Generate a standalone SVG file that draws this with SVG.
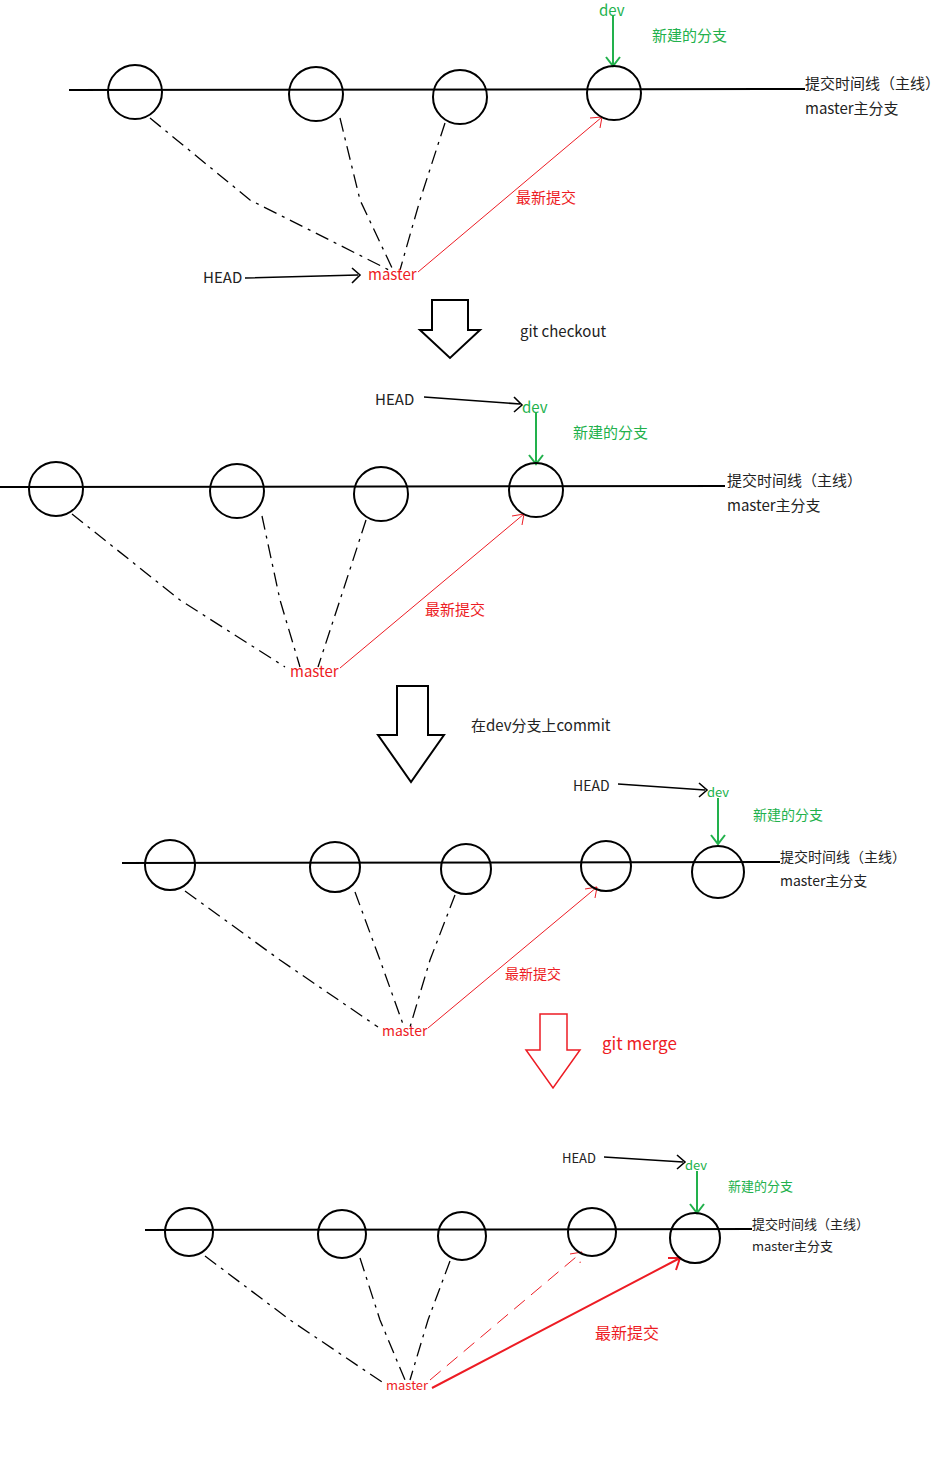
<svg xmlns="http://www.w3.org/2000/svg" width="952" height="1460" viewBox="0 0 952 1460">
<style>
text{font-family:"Microsoft YaHei","Noto Sans CJK SC",sans-serif;font-size:15px}
.k{fill:#222}.g{fill:#22b14c}.r{fill:#ed1c24}
.ax{stroke:#000;stroke-width:2;fill:none}
.c{stroke:#000;stroke-width:2;fill:none}
.d{stroke:#000;stroke-width:1.3;fill:none;stroke-dasharray:14 6 3 6}
.ga{stroke:#22b14c;stroke-width:2;fill:none}
.ra{stroke:#ed1c24;stroke-width:1;fill:none}
.ha{stroke:#000;stroke-width:1.6;fill:none}
.s{font-size:13px}
</style>
<rect width="952" height="1460" fill="#fff"/>
<g id="connectors">
<!-- panel1 -->
<line class="ax" x1="69" y1="90" x2="805" y2="89"/>
<path class="d" d="M150 118 L250 200 L393 272 M340 118 L360 200 L393 270 M445 123 L420 200 L400 270"/>
<path class="ga" d="M613 16 L613 65 M606 57 L613 66 L620 57"/>
<path class="ha" d="M245 278 L358 275 M352 268 L360 275 L352 283"/>
<path class="ra" d="M418 272 L602 117 M590 118 L602 117 L600 128"/>
<polygon points="432,300 468,300 468,330 480,330 450,358 420,330 432,330" fill="#fff" stroke="#000" stroke-width="2"/>
<!-- panel2 -->
<line class="ax" x1="0" y1="487" x2="725" y2="486"/>
<path class="d" d="M72 514 L180 600 L285 667 M262 516 L280 600 L300 667 M366 520 L340 600 L318 667"/>
<path class="ga" d="M536 413 L536 463 M529 455 L536 464 L543 455"/>
<path class="ha" d="M424 397 L520 404 M514 397 L522 405 L514 412"/>
<path class="ra" d="M340 668 L524 514 M512 516 L524 514 L522 525"/>
<polygon points="397,686 428,686 428,735 444,735 411,782 378,735 397,735" fill="#fff" stroke="#000" stroke-width="2"/>
<!-- panel3 -->
<line class="ax" x1="122" y1="863" x2="780" y2="862"/>
<path class="d" d="M185 891 L280 960 L378 1027 M355 892 L380 960 L404 1027 M455 895 L430 960 L410 1027"/>
<path class="ga" d="M718 798 L718 843 M711 835 L718 844 L725 835"/>
<path class="ha" d="M618 784 L705 790 M699 783 L707 790 L699 797"/>
<path class="ra" d="M428 1028 L597 887 M585 889 L597 887 L595 898"/>
<polygon points="540,1014 567,1014 567,1050 580,1050 553,1088 526,1050 540,1050" fill="#fff" stroke="#ed1c24" stroke-width="1.5"/>
<!-- panel4 -->
<line class="ax" x1="145" y1="1230" x2="752" y2="1229"/>
<path class="d" d="M205 1256 L290 1320 L382 1382 M360 1258 L380 1320 L405 1380 M450 1261 L428 1320 L410 1380"/>
<path class="ga" d="M697 1171 L697 1212 M690 1204 L697 1213 L704 1204"/>
<path class="ha" d="M604 1157 L683 1162 M677 1155 L685 1162 L677 1169"/>
<path class="ra" d="M430 1380 L582 1252 M570 1254 L582 1252 L580 1263" stroke-dasharray="14 8"/>
<path d="M432 1388 L680 1258 M668 1258 L680 1258 L676 1270" stroke="#ed1c24" stroke-width="2" fill="none"/>
</g>
<g id="commits">
<circle class="c" cx="135" cy="92" r="27"/><circle class="c" cx="316" cy="94" r="27"/><circle class="c" cx="460" cy="97" r="27"/><circle class="c" cx="614" cy="93" r="27"/>
<circle class="c" cx="56" cy="489" r="27"/><circle class="c" cx="237" cy="491" r="27"/><circle class="c" cx="381" cy="494" r="27"/><circle class="c" cx="536" cy="490" r="27"/>
<circle class="c" cx="170" cy="865" r="25"/><circle class="c" cx="335" cy="867" r="25"/><circle class="c" cx="466" cy="869" r="25"/><circle class="c" cx="606" cy="866" r="25"/><circle class="c" cx="718" cy="872" r="26"/>
<circle class="c" cx="189" cy="1232" r="24"/><circle class="c" cx="342" cy="1234" r="24"/><circle class="c" cx="462" cy="1236" r="24"/><circle class="c" cx="592" cy="1232" r="24"/><circle class="c" cx="695" cy="1238" r="25"/>
</g>
<g id="labels">
<text class="g" x="599" y="16">dev</text><text class="g" x="652" y="41">新建的分支</text>
<text class="k" x="805" y="89">提交时间线（主线）</text><text class="k" x="805" y="114">master主分支</text>
<text class="k" x="203" y="283">HEAD</text><text class="r" x="368" y="280">master</text><text class="r" x="516" y="203">最新提交</text>
<text class="k" x="520" y="337">git checkout</text>
<text class="k" x="375" y="405">HEAD</text><text class="g" x="522" y="413">dev</text><text class="g" x="573" y="438">新建的分支</text>
<text class="k" x="727" y="486">提交时间线（主线）</text><text class="k" x="727" y="511">master主分支</text>
<text class="r" x="290" y="677">master</text><text class="r" x="425" y="615">最新提交</text>
<text class="k" x="471" y="731">在dev分支上commit</text>
<text class="k s" x="573" y="791" style="font-size:14px">HEAD</text><text class="g s" x="707" y="797">dev</text><text class="g s" x="753" y="820" style="font-size:14px">新建的分支</text>
<text class="k s" x="780" y="862" style="font-size:14px">提交时间线（主线）</text><text class="k s" x="780" y="886" style="font-size:14px">master主分支</text>
<text class="r s" x="382" y="1036" style="font-size:14px">master</text><text class="r s" x="505" y="979" style="font-size:14px">最新提交</text>
<text class="r" x="602" y="1050" style="font-size:17px">git merge</text>
<text class="k s" x="562" y="1163">HEAD</text><text class="g s" x="685" y="1170">dev</text><text class="g s" x="728" y="1191">新建的分支</text>
<text class="k s" x="752" y="1229">提交时间线（主线）</text><text class="k s" x="752" y="1251">master主分支</text>
<text class="r s" x="386" y="1390">master</text><text class="r" x="595" y="1339" style="font-size:16px">最新提交</text>
</g>
</svg>
